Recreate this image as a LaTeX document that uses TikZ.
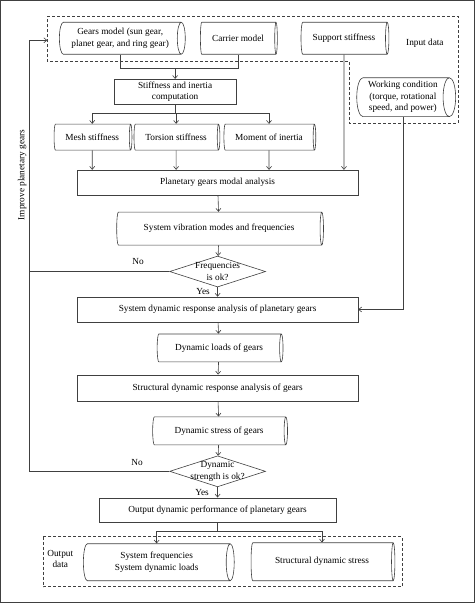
\documentclass[tikz,border=0pt]{standalone}
\usepackage{fontspec}
\setmainfont{Liberation Serif}
\usetikzlibrary{shapes.geometric,arrows.meta}

\tikzset{
  cyl/.style={cylinder,shape border rotate=0,aspect=0.4,draw=black!75,inner sep=0mm,align=center},
  stepbox/.style={rectangle,draw=black!75,inner sep=0mm,align=center},
  test/.style={diamond,draw=black!75,inner xsep=-20pt,inner ysep=-10pt,minimum width=96pt,minimum height=31pt,align=center},
  frame/.style={draw=black!75,dash pattern=on 3pt off 2pt}
}

\begin{document}
\begin{tikzpicture}[x=1pt,y=-1pt,>={Straight Barb[length=3pt,width=5pt]},
  every node/.style={font=\fontsize{9.3}{11.5}\selectfont},
  every path/.style={draw=black!75,line width=0.6pt}]
\useasboundingbox (0,0) rectangle (474,603);
% input and output frames
\draw[frame] (47,16) -- (458,16) -- (458,123) -- (349,123) -- (349,61) -- (47,61) -- cycle;
\draw[frame] (43,537) rectangle (402,587);
\foreach \x/\y/\w/\h/\n/\t in {120/38/126/32/gears/{Gears model (sun gear,\\planet gear, and ring gear)}, 238/38/77/32/carrier/Carrier model, 344/38/88/32/support/Support stiffness, 403/97/99/39/workcond/{Working condition\\(torque, rotational\\speed, and power)}, 92/137/78/26/mesh/Mesh stiffness, 176/137/86/26/torsion/Torsion stiffness, 269/137/92/26/moment/Moment of inertia, 219/228.5/207/33/vib/System vibration modes and frequencies, 219/348/126/28/loads/Dynamic loads of gears, 219/431/135/28/stress/Dynamic stress of gears, 156.5/562.5/151/37/outfreq/{System frequencies\\System dynamic loads}, 322/562/144/38/outstress/Structural dynamic stress}
  \node[cyl,minimum height=\w,minimum width=\h] (\n) at (\x,\y) {\t};
\foreach \x/\y/\w/\h/\n/\t in {175/91.5/122/25/stiff/{Stiffness and inertia\\computation}, 217.5/182.5/281/25/modal/Planetary gears modal analysis, 217.5/309.5/281/25/sysdyn/System dynamic response analysis of planetary gears, 217.5/388/281/26/struct/Structural dynamic response analysis of gears, 217.5/510.5/237/25/output/Output dynamic performance of planetary gears}
  \node[stepbox,minimum width=\w,minimum height=\h] (\n) at (\x,\y) {\t};
\foreach \y/\n/\t in {271.5/freq/{Frequencies\\is ok?}, 471.5/strength/{Dynamic\\strength is ok?}}
  \node[test] (\n) at (217.5,\y) {\t};
\foreach \x/\y/\n/\t in {425/43/lin/Input data, 60/559/lout/{Output\\data}, 138/261/no1/No, 137/463/no2/No, 203/291/yes1/Yes, 202/493/yes2/Yes}
  \node[align=center] (\n) at (\x,\y) {\t};
\node[rotate=90] (limprove) at (22,175) {Improve planetary gears};

\coordinate (j1) at (175,68);
\coordinate (j2) at (175,113);
\coordinate (j3) at (217.5,532);
\coordinate (fb) at (29,40);
\coordinate (inleft) at (47,40);
\draw (gears) |- (j1) -| (carrier);
\draw[->] (j1) -- (stiff);
\draw (stiff) -- (j2);
\foreach \t in {mesh, torsion, moment}
  \draw[->] (j2) -| (\t);
\foreach \s in {mesh, torsion, moment, support}
  \draw[->] (\s) -- (\s |- modal.north);
\foreach \s/\t in {modal/vib, vib/freq, freq/sysdyn, sysdyn/loads, loads/struct, struct/stress, stress/strength, strength/output}
  \draw[->] (\s) -- (\t);
\draw[->] (workcond) |- (sysdyn);
\draw (freq) -- (freq -| fb);
\draw[->] (strength) -| (fb) -- (inleft);
\draw (output) -- (j3);
\foreach \t in {outfreq, outstress}
  \draw[->] (j3) -| (\t);

\end{tikzpicture}
\end{document}
